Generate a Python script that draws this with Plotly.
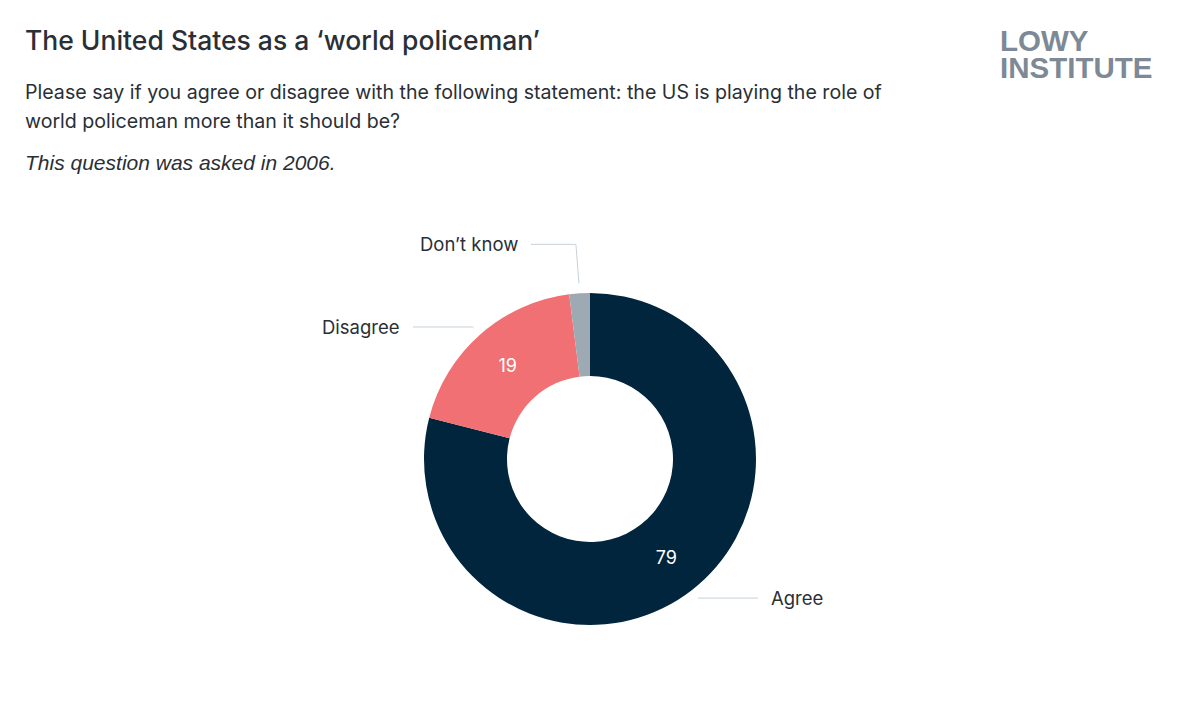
import math
import plotly.graph_objects as go

# ---- data ----
categories = ["Agree", "Disagree", "Don’t know"]
values = [79, 19, 2]
colors = ["#01253d", "#f07073", "#9eaab3"]

W, H = 1178, 702
CX, CY, R = 590, 459, 166      # donut centre / radius in px (layout)
HOLE = 0.5

def px(x):
    return x / W

def py(y):
    return 1 - y / H

fig = go.Figure()
fig.add_trace(go.Pie(
    labels=categories,
    values=values,
    text=[str(v) if v >= 5 else "" for v in values],
    textinfo="text",
    textposition="inside",
    insidetextorientation="horizontal",
    textfont=dict(family="Inter, Liberation Sans, sans-serif", size=18, color="white"),
    marker=dict(colors=colors, line=dict(color="white", width=0)),
    hole=HOLE,
    sort=False,
    direction="clockwise",
    rotation=0,
    showlegend=False,
    hoverinfo="label+value",
    domain=dict(x=[px(CX - R), px(CX + R)], y=[py(CY + R), py(CY - R)]),
))

# ---- outside labels with connectors, computed from slice angles ----
label_font = dict(family="Inter, Liberation Sans, sans-serif", size=18.5, color="#2a2f36")
line_color = "#c8d1d9"
# per-label layout tweaks: (extra vertical lift in px, horizontal connector end offset from centre)
label_layout = {"Agree": (0, 168), "Disagree": (0, 177), "Don’t know": (39, 59)}
total = sum(values)
cum = 0
shapes = []
annotations = []
for cat, v in zip(categories, values):
    mid = (cum + v / 2) / total * 2 * math.pi
    cum += v
    sx = CX + (R + 10) * math.sin(mid)
    sy = CY - (R + 10) * math.cos(mid)
    lift, xoff = label_layout[cat]
    right = math.sin(mid) > 0
    ly = sy - lift
    ex = CX + xoff if right else CX - xoff
    pts = [(sx, sy), (sx - (3 if not right else -3) * (lift > 0), ly), (ex, ly)]
    path = "M " + " L ".join(f"{px(a)},{py(b)}" for a, b in pts)
    shapes.append(dict(type="path", xref="paper", yref="paper", path=path,
                       line=dict(color=line_color, width=1)))
    annotations.append(dict(
        text=cat, xref="paper", yref="paper",
        x=px(ex + (11 if right else -11)), y=py(ly),
        xanchor="left" if right else "right", yanchor="middle",
        showarrow=False, font=label_font))

# ---- titles ----
title_font = dict(family="Inter, Liberation Sans, sans-serif", size=26.5, color="#2a2f36", weight=500)
sub_font = dict(family="Inter, Liberation Sans, sans-serif", size=19.6, color="#2a2f36")
note_font = dict(family="Liberation Sans, Arial, sans-serif", size=21, color="#2a2f36", style="italic")
for txt, y, f in [
    ("The United States as a ‘world policeman’", 40, title_font),
    ("Please say if you agree or disagree with the following statement: the US is playing the role of", 92, sub_font),
    ("world policeman more than it should be?", 121, sub_font),
    ("This question was asked in 2006.", 162, note_font),
]:
    annotations.append(dict(text=txt, xref="paper", yref="paper", x=px(23), y=py(y),
                            xanchor="left", yanchor="middle", showarrow=False, font=f))

logo_font = dict(family="Liberation Sans, Arial, sans-serif", size=29.5, color="#7d8995", weight=700)
for txt, y in [("LOWY", 41), ("INSTITUTE", 67)]:
    annotations.append(dict(text=txt, xref="paper", yref="paper", x=px(998), y=py(y),
                            xanchor="left", yanchor="middle", showarrow=False, font=logo_font))

fig.update_layout(
    width=W, height=H,
    margin=dict(l=0, r=0, t=0, b=0),
    paper_bgcolor="white", plot_bgcolor="white",
    shapes=shapes, annotations=annotations,
)

fig.write_html("out.html", config={"displayModeBar": False},
               post_script="document.body.style.margin='0';document.body.style.overflow='hidden';")
